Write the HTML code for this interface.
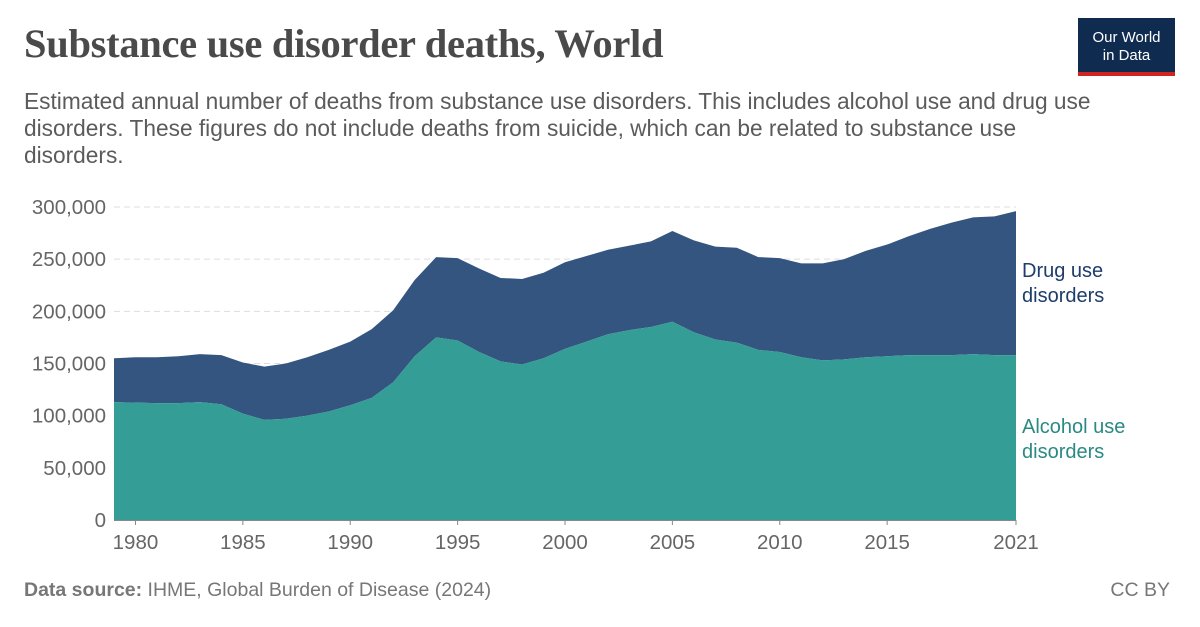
<!DOCTYPE html>
<html><head><meta charset="utf-8"><style>
body{margin:0;width:1200px;height:627px;background:#fff;font-family:"Liberation Sans",sans-serif;overflow:hidden;position:relative}
.title{position:absolute;left:24px;top:20px;font-family:"Liberation Serif",serif;font-size:40.5px;font-weight:bold;color:#4a4a4a;margin:0;letter-spacing:-0.3px}
.sub{position:absolute;left:24px;top:88px;width:1080px;font-size:22.7px;line-height:27px;color:#5b5b5b;margin:0}
.logo{position:absolute;left:1078px;top:18px;width:97px;height:58px;background:#0f2b50;color:#fff;font-size:15px;line-height:18px;text-align:center;box-sizing:border-box;padding-top:11px;border-bottom:4px solid #ce261e}
.foot{position:absolute;top:579px;font-size:19.5px;color:#777}
</style></head><body>
<h1 class="title">Substance use disorder deaths, World</h1>
<p class="sub">Estimated annual number of deaths from substance use disorders. This includes alcohol use and drug use disorders. These figures do not include deaths from suicide, which can be related to substance use disorders.</p>
<div class="logo">Our World<br>in Data</div>
<svg id="chart" width="1200" height="627" style="position:absolute;left:0;top:0"></svg>
<div class="foot" style="left:24px"><b>Data source:</b> IHME, Global Burden of Disease (2024)</div>
<div class="foot" style="right:30px">CC BY</div>
<script>
const years=[1979,1980,1981,1982,1983,1984,1985,1986,1987,1988,1989,1990,1991,1992,1993,1994,1995,1996,1997,1998,1999,2000,2001,2002,2003,2004,2005,2006,2007,2008,2009,2010,2011,2012,2013,2014,2015,2016,2017,2018,2019,2020,2021];
const alcohol=[113000,112500,112000,112000,113000,111000,102000,96000,97000,100000,104000,110000,117000,132000,157000,175000,172000,161000,152000,149000,155000,164000,171000,178000,182000,185000,190000,180000,173000,170000,163000,161000,156000,153000,154000,156000,157000,158000,158000,158000,159000,158000,158000];
const drug=[42000,43500,44000,45000,46000,47000,49000,51000,53000,56000,59000,61000,66000,69000,73000,77000,79000,80000,80000,82000,82000,83000,82000,81000,81000,82000,87000,88000,89000,91000,89000,90000,90000,93000,96000,102000,107000,114000,121000,127000,131000,133000,138000];
const yTicks=[0,50000,100000,150000,200000,250000,300000];
const xTicks=[1980,1985,1990,1995,2000,2005,2010,2015,2021];
const NS="http://www.w3.org/2000/svg",svg=document.getElementById('chart');
const X0=114,X1=1016,Y0=520,Y1=207;
const xs=y=>X0+(y-1979)/(2021-1979)*(X1-X0);
const ys=v=>Y0-v/300000*(Y0-Y1);
function mk(t,a){const e=document.createElementNS(NS,t);for(const k in a)e.setAttribute(k,a[k]);svg.appendChild(e);return e;}
yTicks.forEach(v=>{
 if(v>0){const l=mk('line',{x1:X0,x2:X1,y1:ys(v),y2:ys(v),stroke:'#ddd','stroke-dasharray':'6,4'});
 
 }
 const t=mk('text',{x:106,y:ys(v)+7,'text-anchor':'end','font-size':20.5,fill:'#666','font-family':'Liberation Sans'});t.textContent=v.toLocaleString('en-US');
 
 
});
const totals=alcohol.map((a,i)=>a+drug[i]);
const pd='M'+years.map((y,i)=>xs(y)+','+ys(totals[i])).join('L')+'L'+years.slice().reverse().map((y,j)=>xs(y)+','+ys(alcohol[years.length-1-j])).join('L')+'Z';
const d=mk('path',{d:pd,fill:'#34557f'});


const pa='M'+xs(1979)+','+Y0+'L'+years.map((y,i)=>xs(y)+','+ys(alcohol[i])).join('L')+'L'+xs(2021)+','+Y0+'Z';
const a=mk('path',{d:pa,fill:'#349d96'});


const ax=mk('line',{x1:X0,x2:X1,y1:Y0+0.5,y2:Y0+0.5,stroke:'#888'});


xTicks.forEach(y=>{
 const tk=mk('line',{x1:xs(y),x2:xs(y),y1:Y0,y2:Y0+5,stroke:'#888'});
 
 
 const t=mk('text',{x:xs(y),y:Y0+29,'text-anchor':'middle','font-size':20.5,fill:'#666','font-family':'Liberation Sans'});t.textContent=y;
 
 
});
[[['Drug use','disorders'],277,'#1d3d6b','legend-drug'],[['Alcohol use','disorders'],433,'#2a8a83','legend-alcohol']].forEach(([ls,y,c,n])=>{
 ls.forEach((s,i)=>{const t=mk('text',{x:1022,y:y+i*25,'font-size':20,fill:c,'font-family':'Liberation Sans'});t.textContent=s;
 
 });
});
</script>
</body></html>
